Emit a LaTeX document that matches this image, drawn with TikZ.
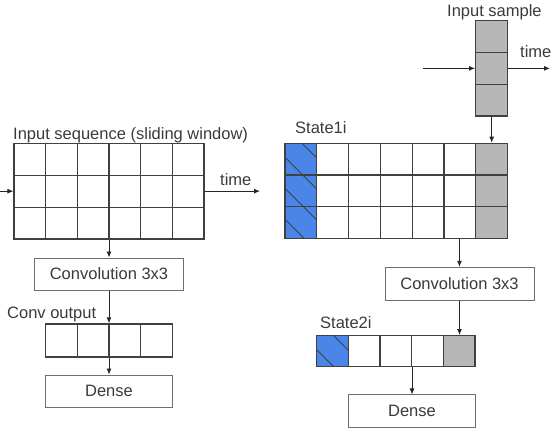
\documentclass[tikz,border=0pt]{standalone}
\usepackage{fontspec}
\setmainfont{Liberation Sans}
\usetikzlibrary{arrows.meta}
\definecolor{cellblue}{HTML}{4A86E8}
\definecolor{cellgray}{HTML}{B7B7B7}
\definecolor{txt}{HTML}{3A3A3A}
\definecolor{ln}{HTML}{404040}
\definecolor{boxln}{HTML}{6E6E6E}
\begin{document}
\begin{tikzpicture}[x=1pt,y=-1pt,
  lab/.style={font=\fontsize{16.5}{19}\selectfont, text=txt, inner sep=0pt, anchor=base west},
  boxnode/.style={draw=boxln, line width=1pt, fill=white, inner sep=0pt,
    font=\fontsize{16.5}{19}\selectfont, text=txt},
  gridnode/.style={draw=ln, line width=1.2pt, inner sep=0pt},
  gridline/.style={draw=ln, line width=1.2pt},
  hatch/.style={draw=ln, line width=0.9pt},
  arr/.style={-{Latex[length=6pt,width=5pt]}, line width=0.9pt, draw=black!85},
]
\useasboundingbox (0,0) rectangle (558,434);

% ---------- left side ----------
\node[gridnode, minimum width=190pt, minimum height=95.7pt] (seq) at (109,191.15) {};
\foreach \i in {1,...,5} \draw[gridline] (14+31.667*\i,143.3) -- (14+31.667*\i,239);
\foreach \j in {1,2} \draw[gridline] (14,143.3+31.9*\j) -- (204,143.3+31.9*\j);
\node[lab] (seqlab) at (13,139) {Input sequence (sliding window)};

\coordinate (inL) at (0,191.15);
\coordinate (outL) at (260,191.15);
\node[lab] (timeL) at (220,185.5) {time};

\node[boxnode, minimum width=149pt, minimum height=32pt] (conv1) at (109,274) {Convolution 3x3};

\node[gridnode, minimum width=126.6pt, minimum height=33pt] (out1) at (109,340.5) {};
\foreach \i in {1,2,3} \draw[gridline] (45.7+31.65*\i,324) -- (45.7+31.65*\i,357);
\node[lab] (outlab) at (7,318) {Conv output};

\node[boxnode, minimum width=126.6pt, minimum height=32pt] (dense1) at (109,391) {Dense};

\draw[arr] (inL) -- (seq.west);
\draw[arr] (seq.east) -- (outL);
\draw[arr] (seq.south) -- (conv1.north);
\draw[arr] (conv1.south) -- (out1.north);
\draw[arr] (out1.south) -- (dense1.north);

% ---------- right side ----------
% input sample
\fill[cellgray] (475.7,20.7) rectangle (507.7,116);
\node[gridnode, minimum width=32pt, minimum height=95.3pt] (samp) at (491.7,68.35) {};
\foreach \j in {1,2} \draw[gridline] (475.7,20.7+31.77*\j) -- (507.7,20.7+31.77*\j);
\node[lab] (samplab) at (447,16.5) {Input sample};
\coordinate (inR) at (423,68.35);
\coordinate (outR) at (550,68.35);
\node[lab] (timeR) at (520,57.5) {time};

% state 1
\fill[cellblue] (285,143.3) rectangle (316.81,238.3);
\fill[cellgray] (475.86,143.3) rectangle (507.7,238.3);
\begin{scope}
  \clip (285,143.3) rectangle (316.81,238.3);
  \foreach \c in {-158.7,-127.7,-96.7,-65.7}
    \draw[hatch] (280,280+\c) -- (322,322+\c);
\end{scope}
\node[gridnode, minimum width=222.7pt, minimum height=95pt] (st1) at (396.35,190.8) {};
\foreach \i in {1,...,6} \draw[gridline] (285+31.81*\i,143.3) -- (285+31.81*\i,238.3);
\foreach \j in {1,2} \draw[gridline] (285,143.3+31.67*\j) -- (507.7,143.3+31.67*\j);
\node[lab] (st1lab) at (295,133.5) {State1i};

\node[boxnode, minimum width=149pt, minimum height=32.7pt] (conv2) at (459.5,283.7) {Convolution 3x3};

% state 2
\fill[cellblue] (316.7,335.7) rectangle (348.36,366.7);
\fill[cellgray] (443.34,335.7) rectangle (475,366.7);
\begin{scope}
  \clip (316.7,335.7) rectangle (348.36,366.7);
  \foreach \c in {2,33}
    \draw[hatch] (310,310+\c) -- (355,355+\c);
\end{scope}
\node[gridnode, minimum width=158.3pt, minimum height=31pt] (st2) at (395.85,351.2) {};
\foreach \i in {1,...,4} \draw[gridline] (316.7+31.66*\i,335.7) -- (316.7+31.66*\i,366.7);
\node[lab] (st2lab) at (320,328) {State2i};

\node[boxnode, minimum width=127.4pt, minimum height=32.7pt] (dense2) at (412,411.3) {Dense};

\draw[arr] (inR) -- (samp.west);
\draw[arr] (samp.east) -- (outR);
\draw[arr] (samp.south) -- (samp.south |- st1.north);
\draw[arr] (conv2.north |- st1.south) -- (conv2.north);
\draw[arr] (conv2.south) -- (conv2.south |- st2.north);
\draw[arr] (dense2.north |- st2.south) -- (dense2.north);
\end{tikzpicture}
\end{document}
